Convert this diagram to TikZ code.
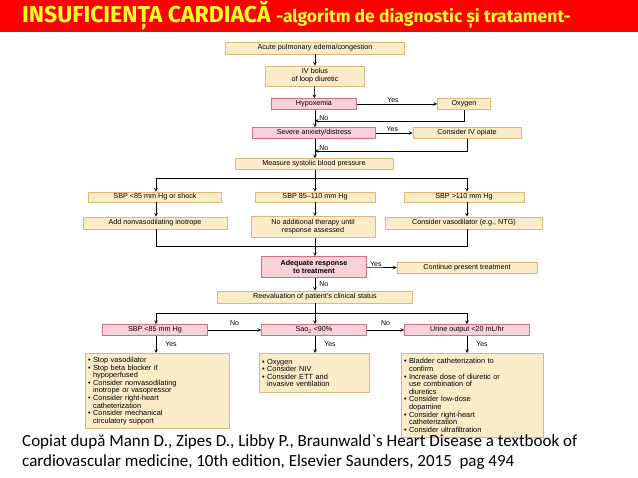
\documentclass[tikz,border=0pt]{standalone}
\usepackage{fontspec}
\setmainfont{Liberation Sans}
\newfontfamily\titlefont{Fira Sans}
\newfontfamily\citefont{Carlito}
\usetikzlibrary{positioning}
\definecolor{beigefill}{RGB}{250,236,200}
\definecolor{beigeline}{RGB}{222,184,120}
\definecolor{pinkfill}{RGB}{248,208,216}
\definecolor{pinkline}{RGB}{214,110,130}
\definecolor{titlered}{RGB}{255,0,0}
\definecolor{titleyellow}{RGB}{255,255,40}

\begin{document}
\begin{tikzpicture}[x=1pt,y=-1pt,>=stealth,
stap/.style={rectangle,draw=beigeline,fill=beigefill,thick,inner sep=1.5pt,font=\fontsize{7.2}{8}\selectfont,align=center},
vraag/.style={stap,draw=pinkline,fill=pinkfill},
lijst/.style={stap,align=left,anchor=north,inner sep=3pt,font=\fontsize{7.4}{7.6}\selectfont},
etiket/.style={font=\fontsize{7}{8}\selectfont,inner sep=1pt}
]
\useasboundingbox (0,0) rectangle (638,478);
\fill[titlered] (0,0) rectangle (638,32);
\node[anchor=west,text=titleyellow,inner sep=0pt](titel) at (22,16){\titlefont\bfseries\fontsize{23}{26}\selectfont INSUFICIENȚA CARDIACĂ \fontsize{17.5}{20}\selectfont -algoritm de diagnostic și tratament-};

% bovenste keten
\node[stap,minimum width=179pt,minimum height=12pt](acuut) at (315,48){Acute pulmonary edema/congestion};
\node[stap,minimum width=99pt,minimum height=20pt](bolus) at (315,76){IV bolus\\of loop diuretic};
\node[vraag,minimum width=85pt,minimum height=11pt](hypox) at (314,104){Hypoxemia};
\node[stap,minimum width=53pt,minimum height=11pt](zuurstof) at (464,104){Oxygen};
\node[vraag,minimum width=123pt,minimum height=11pt](angst) at (314,133){Severe anxiety/distress};
\node[stap,minimum width=108pt,minimum height=11pt](opiaat) at (467,133){Consider IV opiate};
\node[stap,minimum width=158pt,minimum height=11pt](meten) at (314,164){Measure systolic blood pressure};

\coordinate(terug1) at (315,121);
\coordinate(terug2) at (315,151);
\coordinate(splits) at (315,178);
\coordinate(splitsL) at (156,178);
\coordinate(splitsR) at (467,178);

% bloeddruk
\node[stap,minimum width=133pt,minimum height=10pt](sbpA) at (155,197){SBP <85 mm Hg or shock};
\node[stap,minimum width=120pt,minimum height=10pt](sbpB) at (315,197){SBP 85--110 mm Hg};
\node[stap,minimum width=120pt,minimum height=10pt](sbpC) at (464,197){SBP >110 mm Hg};
\node[stap,minimum width=144pt,minimum height=12pt](actA) at (155,223){Add nonvasodilating inotrope};
\node[stap,minimum width=124pt,minimum height=21pt](actB) at (313,227){No additional therapy until\\response assessed};
\node[stap,minimum width=157pt,minimum height=12pt](actC) at (464,223){Consider vasodilator (e.g., NTG)};
\coordinate(samen) at (315,246);

\node[vraag,minimum width=105pt,minimum height=21pt,font=\fontsize{7.2}{8}\selectfont\bfseries](respons) at (314,267){Adequate response\\to treatment};
\node[stap,minimum width=140pt,minimum height=11pt](verder) at (467,268){Continue present treatment};
\node[stap,minimum width=195pt,minimum height=12pt](herzien) at (315,297){Reevaluation of patient's clinical status};
\coordinate(splits2) at (315,313);
\coordinate(splits2L) at (156,313);
\coordinate(splits2R) at (467,313);

% onderste rij
\node[vraag,minimum width=105pt,minimum height=11pt](lageA) at (155,330){SBP <85 mm Hg};
\node[vraag,minimum width=105pt,minimum height=11pt](lageB) at (314,330){Sa\textsc{o}\textsubscript{2} <90\%};
\node[vraag,minimum width=125pt,minimum height=11pt](lageC) at (467,330){Urine output <20 mL/hr};

\node[lijst,text width=138pt,minimum height=75pt](lijstA) at (157,353){%
• Stop vasodilator\\
• Stop beta blocker if\\\phantom{• }hypoperfused\\
• Consider nonvasodilating\\\phantom{• }inotrope or vasopressor\\
• Consider right-heart\\\phantom{• }catheterization\\
• Consider mechanical\\\phantom{• }circulatory support};
\node[lijst,text width=104pt,minimum height=39pt](lijstB) at (314,353){%
• Oxygen\\
• Consider NIV\\
• Consider ETT and\\\phantom{• }invasive ventilation};
\node[lijst,text width=136pt,minimum height=84pt](lijstC) at (472,353){%
• Bladder catheterization to\\\phantom{• }confirm\\
• Increase dose of diuretic or\\\phantom{• }use combination of\\\phantom{• }diuretics\\
• Consider low-dose\\\phantom{• }dopamine\\
• Consider right-heart\\\phantom{• }catheterization\\
• Consider ultrafiltration};

\begin{scope}[->, semithick]
\draw (acuut)--(bolus);
\draw (bolus)--(hypox);
\draw (hypox)--(zuurstof) node[etiket,pos=.45,above]{Yes};
\draw (zuurstof.south)|-(terug1);
\draw (hypox.south-|terug1)--(angst.north-|terug1) node[etiket,pos=.5,right=3pt]{No};
\draw (angst)--(opiaat) node[etiket,pos=.45,above]{Yes};
\draw (opiaat.south)|-(terug2);
\draw (angst.south-|terug2)--(meten.north-|terug2) node[etiket,pos=.5,right=3pt]{No};
\draw[-] (meten.south-|splits)--(splits);
\draw[-] (splitsL)--(splitsR);
\draw (splitsL)--(sbpA.north-|splitsL);
\draw (splits)--(sbpB.north-|splits);
\draw (splitsR)--(sbpC.north-|splitsR);
\draw (sbpA.south-|splitsL)--(actA.north-|splitsL);
\draw (sbpB.south-|splits)--(actB.north-|splits);
\draw (sbpC.south-|splitsR)--(actC.north-|splitsR);
\draw[-] (actA.south-|splitsL)|-(samen);
\draw[-] (actC.south-|splitsR)|-(samen);
\draw (actB.south-|samen)--(respons.north-|samen);
\draw (respons)--(verder) node[etiket,pos=.3,above]{Yes};
\draw (respons.south-|splits2)--(herzien.north-|splits2) node[etiket,pos=.5,right=3pt]{No};
\draw[-] (herzien.south-|splits2)--(splits2);
\draw[-] (splits2L)--(splits2R);
\draw (splits2L)--(lageA.north-|splits2L);
\draw (splits2)--(lageB.north-|splits2);
\draw (splits2R)--(lageC.north-|splits2R);
\draw (lageA)--(lageB) node[etiket,pos=.5,above=3pt]{No};
\draw (lageB)--(lageC) node[etiket,pos=.5,above=3pt]{No};
\draw (lageA.south-|splits2L)--(lijstA.north-|splits2L) node[etiket,pos=.5,right=8pt]{Yes};
\draw (lageB.south-|splits2)--(lijstB.north-|splits2) node[etiket,pos=.5,right=8pt]{Yes};
\draw (lageC.south-|splits2R)--(lijstC.north-|splits2R) node[etiket,pos=.5,right=8pt]{Yes};
\end{scope}

\node[anchor=north west,align=left,inner sep=0pt,font=\citefont\fontsize{17}{20}\selectfont](bron) at (22,434){Copiat după Mann D., Zipes D., Libby P., Braunwald`s Heart Disease a textbook of\\cardiovascular medicine, 10th edition, Elsevier Saunders, 2015\ \ pag 494};
\end{tikzpicture}
\end{document}
